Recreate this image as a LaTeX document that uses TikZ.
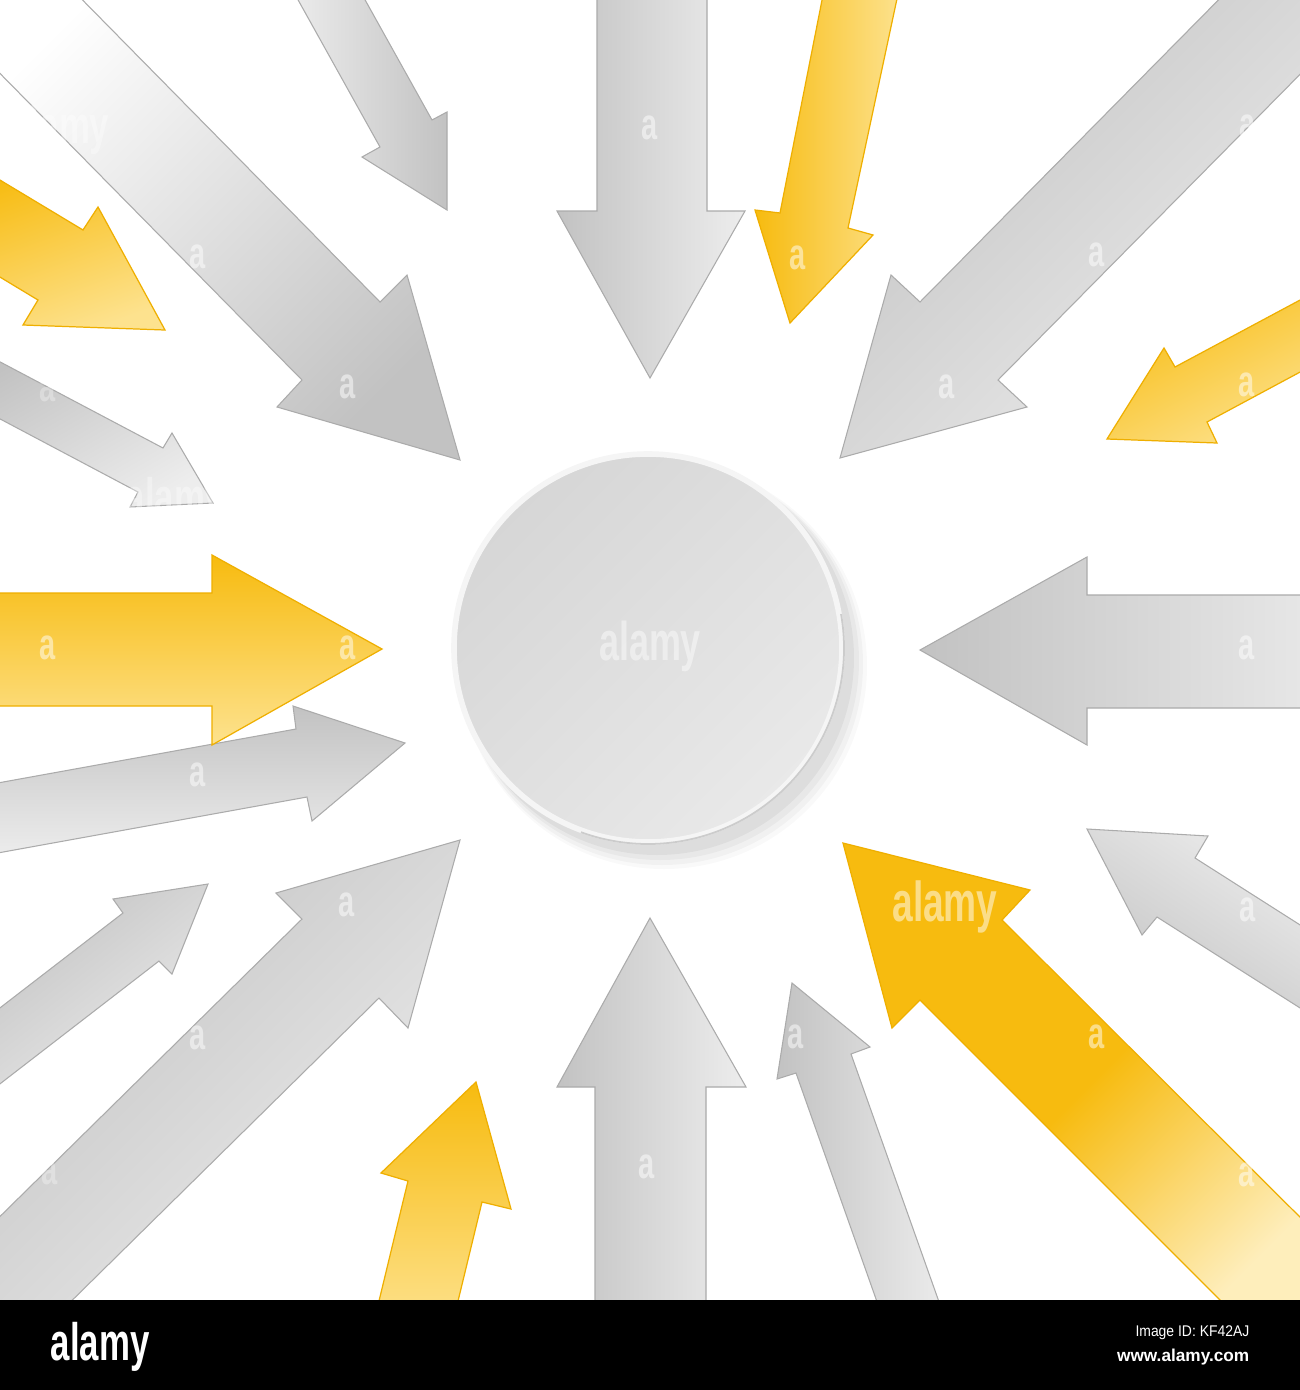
\documentclass[tikz,border=0pt]{standalone}
\usepackage{fontspec}
\setmainfont{Liberation Sans}
\usepackage{graphicx}
\definecolor{gdark}{HTML}{C2C2C2}
\definecolor{glight}{HTML}{EDEDED}
\definecolor{gline}{HTML}{ABABAB}
\definecolor{ydark}{HTML}{F7BB0F}
\definecolor{ylight}{HTML}{FDE28E}
\definecolor{yline}{HTML}{EFAF00}
\definecolor{disc}{HTML}{D6D6D6}
\definecolor{discl}{HTML}{E9E9E9}
\newcommand{\wmtext}[1]{\scalebox{0.66}[1]{\bfseries #1}}

\begin{document}
\begin{tikzpicture}[x=0.01cm,y=-0.01cm,
   garrow/.style={draw=gline,line width=0.3pt,line join=miter},
   yarrow/.style={draw=yline,line width=0.35pt,line join=miter},
   wm/.style={text=white,opacity=0.5,inner sep=0pt,font=\fontsize{12.5}{12.5}\selectfont}]
   \useasboundingbox (0,0) rectangle (1300,1390);
   \fill[white] (0,0) rectangle (1300,1300);
   \begin{scope}
   \clip (0,0) rectangle (1300,1300);
   \shadedraw[garrow,top color=white,bottom color=gdark,shading angle=45]
      (53,-30) -- (380,302) -- (407,275) -- (460,460) -- (277,407) -- (302,380) -- (-30,43) -- (-30,-30) -- cycle;
   \shadedraw[garrow,left color=glight,right color=gdark]
      (287,-20) -- (380,147) -- (362,157) -- (447,210) -- (447,112) -- (432,120) -- (354,-20) -- cycle;
   \shadedraw[garrow,left color=gdark,right color=glight]
      (597,-20) -- (597,211) -- (557,211) -- (650,378) -- (745,211) -- (707,211) -- (707,-20) -- cycle;
   \shadedraw[yarrow,left color=ydark,right color=ylight]
      (826,-20) -- (780,213) -- (755,210) -- (790,323) -- (873,235) -- (848,228) -- (901,-20) -- cycle;
   \shadedraw[garrow,top color=glight,bottom color=gdark,shading angle=225]
      (1248,-30) -- (920,302) -- (891,275) -- (840,458) -- (1027,407) -- (998,380) -- (1330,44) -- (1330,-30) -- cycle;
   \shadedraw[yarrow,top color=ylight,bottom color=ydark,shading angle=208]
      (1330,284) -- (1175,367) -- (1164,348) -- (1107,439) -- (1217,443) -- (1207,422) -- (1330,356) -- cycle;
   \shadedraw[garrow,left color=gdark,right color=glight!90!gdark]
      (1330,595) -- (1087,595) -- (1087,557) -- (920,650) -- (1087,745) -- (1087,708) -- (1330,708) -- cycle;
   \shadedraw[garrow,top color=glight,bottom color=gdark,shading angle=-33]
      (1330,944) -- (1195,858) -- (1208,836) -- (1087,829) -- (1142,935) -- (1157,917) -- (1330,1027) -- cycle;
   \shadedraw[yarrow,top color=ylight!60,bottom color=ydark,middle color=ydark,shading angle=225]
      (1330,1247) -- (1002,920) -- (1030,890) -- (843,843) -- (892,1028) -- (920,1000) -- (1250,1330) -- (1330,1330) -- cycle;
   \shadedraw[garrow,left color=gdark,right color=glight]
      (949,1330) -- (851,1054) -- (870,1047) -- (792,983) -- (777,1079) -- (796,1073) -- (887,1330) -- cycle;
   \shadedraw[garrow,left color=gdark,right color=glight]
      (706,1330) -- (706,1087) -- (746,1087) -- (650,918) -- (557,1087) -- (595,1087) -- (595,1330) -- cycle;
   \shadedraw[yarrow,top color=ydark,bottom color=ylight]
      (372,1330) -- (408,1181) -- (381,1173) -- (476,1082) -- (511,1209) -- (482,1202) -- (451,1330) -- cycle;
   \shadedraw[garrow,top color=glight,bottom color=gdark,shading angle=225]
      (-30,1246) -- (302,919) -- (276,893) -- (460,840) -- (408,1028) -- (379,998) -- (42,1330) -- (-30,1330) -- cycle;
   \shadedraw[garrow,top color=glight,bottom color=gdark,shading angle=218]
      (-30,1031) -- (123,913) -- (113,899) -- (208,884) -- (172,974) -- (159,961) -- (-30,1107) -- cycle;
   \shadedraw[garrow,top color=glight,bottom color=gdark,shading angle=180]
      (-30,788) -- (296,729) -- (293,706) -- (405,743) -- (312,821) -- (307,797) -- (-30,858) -- cycle;
   \shadedraw[yarrow,top color=ydark,bottom color=ylight]
      (-30,593) -- (212,593) -- (212,555) -- (382,649) -- (212,745) -- (212,706) -- (-30,706) -- cycle;
   \shadedraw[garrow,top color=glight,bottom color=gdark,shading angle=210]
      (-30,346) -- (163,448) -- (172,433) -- (213,503) -- (130,507) -- (138,492) -- (-30,403) -- cycle;
   \shadedraw[yarrow,top color=ylight,bottom color=ydark,shading angle=200]
      (-30,162) -- (83,230) -- (98,207) -- (165,330) -- (23,325) -- (38,300) -- (-30,259) -- cycle;
   \fill[black,opacity=0.025] (664,666) circle (203);
   \fill[black,opacity=0.03] (662,664) circle (201);
   \fill[black,opacity=0.035] (660,661) circle (199);
   \fill[black,opacity=0.045] (657,658) circle (197);
   \shade[top color=discl,bottom color=disc,shading angle=225] (648,648) circle (196);
   \draw[white!92!gray,line width=1.6pt] (648,648) circle (194);
   \draw[gray!40,line width=0.5pt] (648,648) ++(-10:196) arc (-10:110:196);
   \draw (650,646) node[wm,opacity=0.45,font=\fontsize{15.5}{15.5}\selectfont] (wdisc) {\wmtext{alamy}};
   \draw (945,907) node[wm,font=\fontsize{16}{16}\selectfont] (wbig) {\wmtext{alamy}};
   \draw (60,130) node[wm,opacity=0.35,font=\fontsize{15}{15}\selectfont] (wtl) {\wmtext{alamy}};
   \draw (175,502) node[wm,opacity=0.35,font=\fontsize{15}{15}\selectfont] (wml) {\wmtext{alamy}};
   \draw (650,128) node[wm] (a1) {\wmtext{a}};
   \draw (798,258) node[wm] (a2) {\wmtext{a}};
   \draw (1248,127) node[wm] (a3) {\wmtext{a}};
   \draw (1097,255) node[wm] (a4) {\wmtext{a}};
   \draw (947,387) node[wm] (a5) {\wmtext{a}};
   \draw (1247,385) node[wm] (a6) {\wmtext{a}};
   \draw (1247,648) node[wm] (a7) {\wmtext{a}};
   \draw (1248,910) node[wm] (a8) {\wmtext{a}};
   \draw (1097,1037) node[wm] (a9) {\wmtext{a}};
   \draw (1247,1175) node[wm] (a10) {\wmtext{a}};
   \draw (796,1037) node[wm] (a11) {\wmtext{a}};
   \draw (647,1167) node[wm] (a12) {\wmtext{a}};
   \draw (347,905) node[wm] (a13) {\wmtext{a}};
   \draw (198,1038) node[wm] (a14) {\wmtext{a}};
   \draw (50,1173) node[wm,opacity=0.3] (a15) {\wmtext{a}};
   \draw (198,775) node[wm] (a16) {\wmtext{a}};
   \draw (48,648) node[wm] (a17) {\wmtext{a}};
   \draw (348,648) node[wm] (a18) {\wmtext{a}};
   \draw (48,390) node[wm,opacity=0.3] (a19) {\wmtext{a}};
   \draw (198,257) node[wm] (a20) {\wmtext{a}};
   \draw (348,387) node[wm] (a21) {\wmtext{a}};
   \end{scope}
   \fill[black] (0,1300) rectangle (1300,1390);
   \draw (50,1360) node[anchor=base west,text=white,inner sep=0pt,font=\fontsize{15}{15}\selectfont] (logo) {\wmtext{alamy}};
   \draw (1250,1336) node[anchor=base east,text=white,inner sep=0pt,font=\fontsize{4.4}{4.4}\selectfont] (imgid) {\scalebox{0.9}[1]{Image ID: KF42AJ}};
   \draw (1250,1361) node[anchor=base east,text=white,inner sep=0pt,font=\fontsize{4.9}{4.9}\selectfont\bfseries] (site) {www.alamy.com};
\end{tikzpicture}
\end{document}
